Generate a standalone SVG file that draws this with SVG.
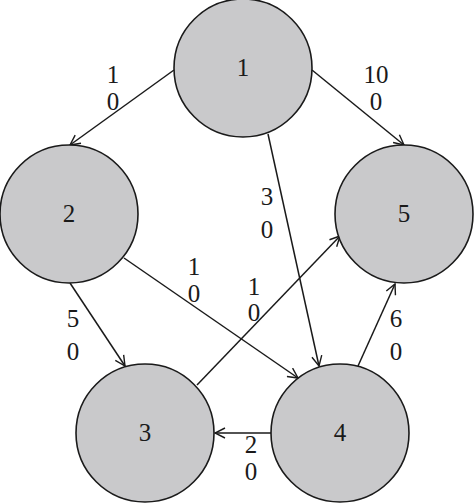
<svg xmlns="http://www.w3.org/2000/svg" width="474" height="503" viewBox="0 0 474 503">
<style>
.node{fill:#c9c9cb;stroke:#1a1a1a;stroke-width:1.6}
.nl{font-family:"Liberation Serif","Times New Roman",serif;font-size:25px;fill:#1a1a1a;text-anchor:middle}
.el{font-family:"Liberation Serif","Times New Roman",serif;font-size:25px;fill:#1a1a1a;text-anchor:middle}
.edge{stroke:#1a1a1a;stroke-width:1.5;fill:none;marker-end:url(#arr)}
</style>
<defs>
<marker id="arr" viewBox="0 0 12 12" refX="11" refY="6" markerWidth="12" markerHeight="12" markerUnits="userSpaceOnUse" orient="auto">
<path d="M1,1 L11,6 L1,11" fill="none" stroke="#1a1a1a" stroke-width="1.4"/>
</marker>
</defs>
<rect width="474" height="503" fill="#fff"/>
<g id="edges">
<line class="edge" x1="174" y1="70" x2="70" y2="145"/>
<line class="edge" x1="312" y1="70" x2="404" y2="145"/>
<line class="edge" x1="268" y1="134" x2="319" y2="366"/>
<line class="edge" x1="124" y1="258" x2="298" y2="378"/>
<line class="edge" x1="70" y1="283" x2="125" y2="366"/>
<line class="edge" x1="197" y1="385" x2="340" y2="236"/>
<line class="edge" x1="358" y1="366" x2="395" y2="284"/>
<line class="edge" x1="272" y1="433" x2="215" y2="433"/>
<text class="el" x="113" y="83">1</text>
<text class="el" x="113" y="110">0</text>
<text class="el" x="376" y="83">10</text>
<text class="el" x="376" y="110">0</text>
<text class="el" x="267" y="205">3</text>
<text class="el" x="267" y="238">0</text>
<text class="el" x="194" y="275">1</text>
<text class="el" x="194" y="302">0</text>
<text class="el" x="254" y="295">1</text>
<text class="el" x="254" y="321">0</text>
<text class="el" x="73" y="327">5</text>
<text class="el" x="73" y="360">0</text>
<text class="el" x="396" y="327">6</text>
<text class="el" x="396" y="360">0</text>
<text class="el" x="251" y="453">2</text>
<text class="el" x="251" y="480">0</text>
</g>
<g id="node1"><circle class="node" cx="243" cy="68" r="69"/><text class="nl" x="243" y="76">1</text></g>
<g id="node2"><circle class="node" cx="69" cy="214" r="69"/><text class="nl" x="69" y="222">2</text></g>
<g id="node5"><circle class="node" cx="404" cy="214" r="69"/><text class="nl" x="404" y="222">5</text></g>
<g id="node3"><circle class="node" cx="145" cy="433" r="69"/><text class="nl" x="145" y="441">3</text></g>
<g id="node4"><circle class="node" cx="340" cy="433" r="69"/><text class="nl" x="340" y="441">4</text></g>
</svg>
